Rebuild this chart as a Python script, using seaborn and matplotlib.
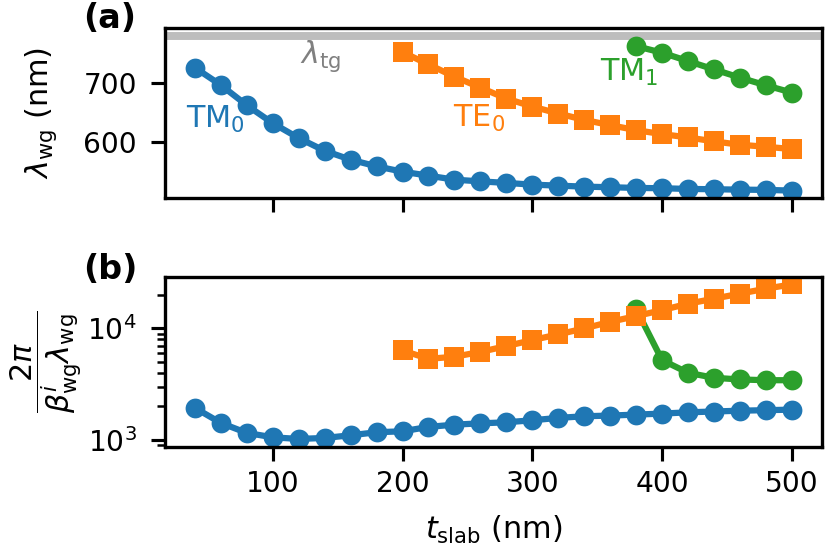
import matplotlib
matplotlib.use("Agg")
import matplotlib.pyplot as plt
import seaborn as sns
import pandas as pd

# ---------------- data ----------------
t_tm0 = [40, 60, 80, 100, 120, 140, 160, 180, 200, 220, 240, 260,
         280, 300, 320, 340, 360, 380, 400, 420, 440, 460, 480, 500]
lam_tm0 = [726.5, 697.1, 662.9, 632.5, 607.3, 585.8, 570.7, 559.5, 550.4, 543.7,
           536.9, 534.0, 531.4, 528.5, 526.8, 525.1, 524.1, 522.9, 522.4, 521.2,
           520.7, 520.0, 519.6, 518.4]
loss_tm0 = [1930, 1413, 1149, 1049, 1014, 1035, 1094, 1165, 1188, 1301, 1364, 1400,
            1432, 1493, 1568, 1622, 1645, 1679, 1714, 1760, 1790, 1820, 1840, 1860]

t_te0 = [200, 220, 240, 260, 280, 300, 320, 340, 360, 380, 400, 420, 440, 460, 480, 500]
lam_te0 = [752.8, 732.0, 711.3, 692.7, 674.2, 660.7, 648.9, 638.1, 629.2, 620.7,
           614.0, 608.4, 601.7, 596.0, 592.6, 588.7]
loss_te0 = [6340, 5330, 5560, 6150, 6935, 7855, 8840, 10000, 11470, 12900,
            14620, 16680, 18520, 20540, 22790, 24880]

t_tm1 = [380, 400, 420, 440, 460, 480, 500]
lam_tm1 = [762.9, 751.8, 737.6, 723.6, 709.6, 696.6, 684.3]
loss_tm1 = [15000, 5190, 3990, 3598, 3475, 3422, 3422]

lambda_tg = 780

c_tm0 = "#1f77b4"
c_te0 = "#ff7f0e"
c_tm1 = "#2ca02c"

df_tm0 = pd.DataFrame({"t": t_tm0, "lam": lam_tm0, "loss": loss_tm0})
df_te0 = pd.DataFrame({"t": t_te0, "lam": lam_te0, "loss": loss_te0})
df_tm1 = pd.DataFrame({"t": t_tm1, "lam": lam_tm1, "loss": loss_tm1})

sns.set_theme(style="ticks")
plt.rcParams["font.family"] = ["DejaVu Sans"]
plt.rcParams["mathtext.fontset"] = "dejavusans"
plt.rcParams["axes.linewidth"] = 1.6
plt.rcParams["xtick.color"] = "black"
plt.rcParams["ytick.color"] = "black"
plt.rcParams["axes.edgecolor"] = "black"
plt.rcParams["text.color"] = "black"
plt.rcParams["axes.labelcolor"] = "black"

fig = plt.figure(figsize=(5.5, 548 / 150), dpi=150)
ax1 = fig.add_axes([0.2, 0.6381, 0.796, 0.3102])
ax2 = fig.add_axes([0.2, 0.1849, 0.796, 0.3102], sharex=ax1)

line_kw = dict(linewidth=3, markersize=9.5, markeredgewidth=0)

# ---- top panel ----
ax1.axhline(lambda_tg, color="#bdbdbd", linewidth=3.8, zorder=1)
sns.lineplot(data=df_tm0, x="t", y="lam", ax=ax1, color=c_tm0, marker="o",
             markeredgecolor=c_tm0, **line_kw)
sns.lineplot(data=df_te0, x="t", y="lam", ax=ax1, color=c_te0, marker="s",
             markeredgecolor=c_te0, **line_kw)
sns.lineplot(data=df_tm1, x="t", y="lam", ax=ax1, color=c_tm1, marker="o",
             markeredgecolor=c_tm1, **line_kw)

fs_ann = 14.5
ax1.text(56, 625, "TM$_0$", color=c_tm0, ha="center", va="baseline", fontsize=fs_ann)
ax1.text(259, 627, "TE$_0$", color=c_te0, ha="center", va="baseline", fontsize=fs_ann)
ax1.text(375, 704, "TM$_1$", color=c_tm1, ha="center", va="baseline", fontsize=fs_ann)
ax1.text(137, 735, r"$\lambda_\mathrm{tg}$", color="#808080", ha="center",
         va="baseline", fontsize=fs_ann)

ax1.set_xlabel("")
ax1.set_ylabel(r"$\lambda_\mathrm{wg}$ (nm)", fontsize=fs_ann)
ax1.yaxis.set_label_coords(-0.162, 0.5)
ax1.tick_params(labelbottom=False)

# ---- bottom panel ----
sns.lineplot(data=df_tm0, x="t", y="loss", ax=ax2, color=c_tm0, marker="o",
             markeredgecolor=c_tm0, **line_kw)
sns.lineplot(data=df_tm1, x="t", y="loss", ax=ax2, color=c_tm1, marker="o",
             markeredgecolor=c_tm1, **line_kw)
sns.lineplot(data=df_te0, x="t", y="loss", ax=ax2, color=c_te0, marker="s",
             markeredgecolor=c_te0, **line_kw)
ax2.set_yscale("log")
ax2.set_xlabel(r"$t_\mathrm{slab}$ (nm)", fontsize=fs_ann, labelpad=8)
ax2.set_ylabel(r"$\dfrac{2\pi}{\beta^{i}_\mathrm{wg}\lambda_\mathrm{wg}}$", fontsize=fs_ann)
ax2.yaxis.set_label_coords(-0.124, 0.5)

for ax in (ax1, ax2):
    ax.tick_params(which="major", length=6.5, width=1.5, labelsize=13.5)
    ax.tick_params(which="minor", length=4, width=1.2)
    ax.tick_params(axis="y", which="major", pad=7)
    ax.tick_params(axis="x", which="major", pad=4.5)
    for s in ax.spines.values():
        s.set_linewidth(1.6)
        s.set_visible(True)

ax1.text(-0.084, 1.055, "(a)", transform=ax1.transAxes, ha="center", va="center",
         fontsize=16, fontweight="bold")
ax2.text(-0.084, 1.045, "(b)", transform=ax2.transAxes, ha="center", va="center",
         fontsize=16, fontweight="bold")

fig.savefig("out.png", dpi=150)
